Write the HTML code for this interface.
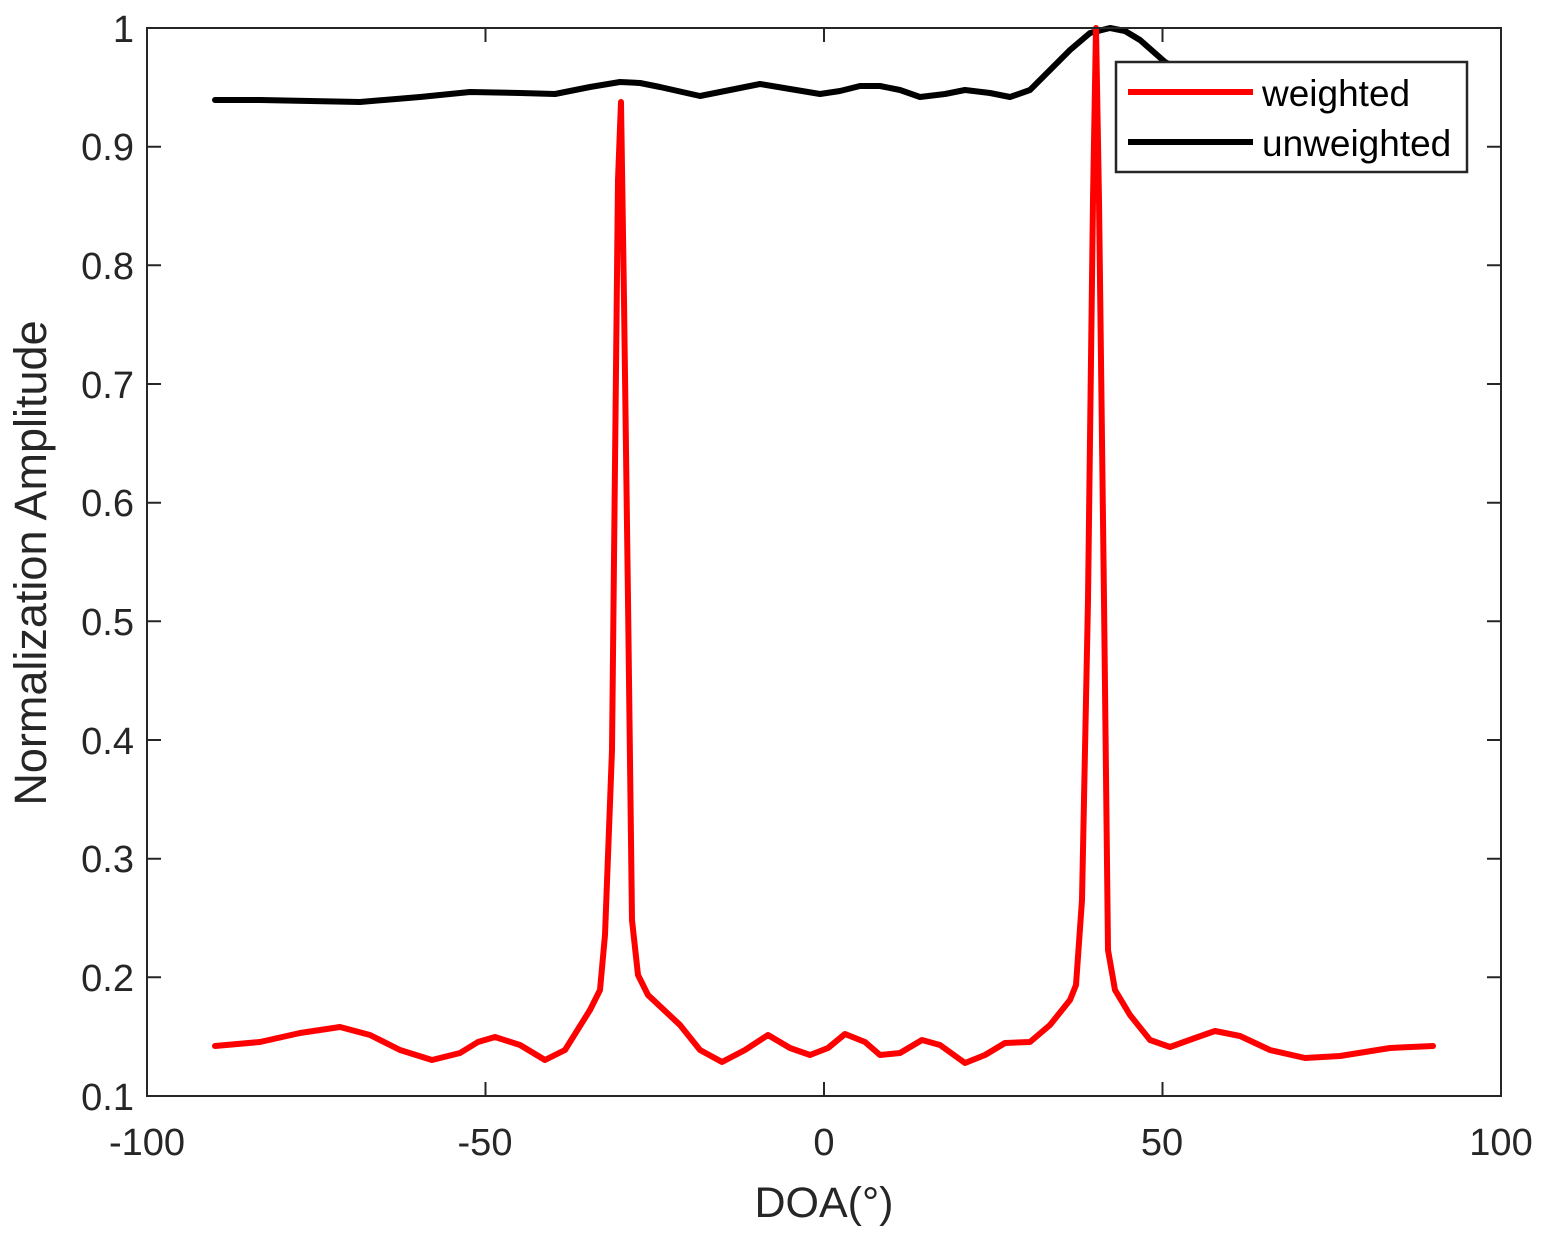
<!DOCTYPE html>
<html><head><style>body{margin:0;background:#fff}svg{display:block}</style></head><body>
<svg width="1552" height="1244" viewBox="0 0 1552 1244" xmlns="http://www.w3.org/2000/svg" font-family="Liberation Sans, Arial, sans-serif">
<rect width="1552" height="1244" fill="#fff"/>
<polyline fill="none" stroke="#000" stroke-width="6" stroke-linejoin="round" stroke-linecap="round" points="215,100 260,100 360,102 420,97 470,92 520,93 555,94 590,87 620,82 640,83 660,87 700,96 730,90 760,84 790,89 820,94 840,91 860,86 880,86 900,90 920,97 945,94 965,90 990,93 1010,97 1030,90 1050,70 1070,50 1090,33 1110,28 1125,31 1140,40 1165,62 1200,80 1433,100"/>
<polyline fill="none" stroke="#f00" stroke-width="6" stroke-linejoin="round" stroke-linecap="round" points="215,1046 260,1042 300,1033 340,1027 370,1035 400,1050 432,1060 460,1053 478,1042 495,1037 520,1045 545,1060 565,1050 590,1010 600,990 605,935 612,750 618,180 621,102 624,300 628,600 632,920 638,975 648,995 680,1025 700,1050 722,1062 745,1050 768,1035 790,1048 810,1055 828,1048 845,1034 865,1042 880,1055 900,1053 922,1040 940,1045 965,1063 985,1055 1005,1043 1030,1042 1050,1025 1070,1000 1076,985 1082,900 1088,600 1093,200 1096,28 1099,200 1104,600 1108,950 1115,990 1130,1015 1150,1040 1170,1047 1195,1038 1215,1031 1240,1036 1270,1050 1305,1058 1340,1056 1390,1048 1433,1046"/>
<g stroke="#262626" stroke-width="2" fill="none">
<rect x="147" y="28" width="1354" height="1068"/>
<path d="M147,1096v-14M485.5,1096v-14M824,1096v-14M1162.5,1096v-14M1501,1096v-14M147,28v14M485.5,28v14M824,28v14M1162.5,28v14M1501,28v14"/>
<path d="M147,28h14M147,146.7h14M147,265.3h14M147,384h14M147,502.7h14M147,621.3h14M147,740h14M147,858.7h14M147,977.3h14M147,1096h14M1501,28h-14M1501,146.7h-14M1501,265.3h-14M1501,384h-14M1501,502.7h-14M1501,621.3h-14M1501,740h-14M1501,858.7h-14M1501,977.3h-14M1501,1096h-14"/>
</g>
<g fill="#262626" font-size="38" text-anchor="end">
<text x="134" y="42">1</text><text x="134" y="160">0.9</text><text x="134" y="279">0.8</text><text x="134" y="398">0.7</text><text x="134" y="516">0.6</text><text x="134" y="635">0.5</text><text x="134" y="754">0.4</text><text x="134" y="872">0.3</text><text x="134" y="991">0.2</text><text x="134" y="1110">0.1</text>
</g>
<g fill="#262626" font-size="38" text-anchor="middle">
<text x="147" y="1155">-100</text><text x="485" y="1155">-50</text><text x="824" y="1155">0</text><text x="1162" y="1155">50</text><text x="1501" y="1155">100</text>
<text x="824" y="1217" font-size="43">DOA(°)</text>
<text transform="translate(46,563) rotate(-90)" font-size="45">Normalization Amplitude</text>
</g>
<rect x="1116" y="62" width="351" height="110" fill="#fff" stroke="#262626" stroke-width="2.5"/>
<line x1="1128" y1="92" x2="1253" y2="92" stroke="#f00" stroke-width="6"/>
<line x1="1128" y1="142" x2="1253" y2="142" stroke="#000" stroke-width="6"/>
<g font-size="37" fill="#000"><text x="1262" y="106">weighted</text><text x="1262" y="156">unweighted</text></g>
</svg>
</body></html>
